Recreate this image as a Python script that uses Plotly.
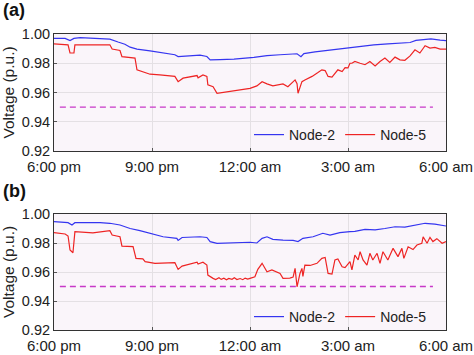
import plotly.graph_objects as go

# ---- data (hours after 6:00 pm, voltage p.u.) ----
a_node2_t = [0, 0.34, 0.49, 0.61, 0.8, 1.41, 1.71, 1.96, 2.17, 2.33, 2.54, 2.94, 3.34, 3.70, 3.80, 4.16, 4.47, 4.68, 4.78, 5.08, 5.51, 6.12, 6.52, 6.92, 7.44, 7.56, 7.65, 7.99, 8.36, 8.75, 8.97, 9.37, 9.79, 10.22, 10.62, 10.9, 11.08, 11.54, 11.82, 12.0]
a_node2_v = [0.997, 0.997, 0.9955, 0.997, 0.9975, 0.997, 0.9965, 0.9945, 0.993, 0.991, 0.9897, 0.9885, 0.987, 0.9858, 0.9846, 0.985, 0.9855, 0.9846, 0.9823, 0.9825, 0.9828, 0.984, 0.9852, 0.9858, 0.9865, 0.9845, 0.9866, 0.9878, 0.9888, 0.990, 0.9908, 0.9915, 0.9926, 0.9932, 0.9938, 0.9942, 0.9956, 0.9966, 0.9958, 0.9955]

a_node5_t = [0, 0.43, 0.49, 0.61, 0.64, 1.10, 1.71, 1.78, 2.02, 2.08, 2.48, 2.54, 2.72, 2.88, 2.94, 3.24, 3.70, 3.80, 3.95, 4.38, 4.41, 4.56, 4.68, 4.71, 4.87, 4.99, 5.30, 5.69, 6.00, 6.21, 6.37, 6.52, 6.70, 7.01, 7.16, 7.38, 7.44, 7.47, 7.53, 7.59, 7.68, 7.90, 8.08, 8.20, 8.30, 8.39, 8.51, 8.60, 8.69, 8.82, 8.91, 9.00, 9.06, 9.12, 9.21, 9.37, 9.52, 9.67, 9.83, 9.98, 10.13, 10.28, 10.44, 10.59, 10.74, 10.90, 11.05, 11.20, 11.36, 11.51, 11.66, 11.82, 12.0]
a_node5_v = [0.9933, 0.9926, 0.987, 0.987, 0.9926, 0.9928, 0.9926, 0.9897, 0.9887, 0.9845, 0.9835, 0.9755, 0.9743, 0.9728, 0.9725, 0.972, 0.971, 0.9674, 0.9698, 0.9716, 0.970, 0.972, 0.971, 0.9652, 0.964, 0.9595, 0.9606, 0.9617, 0.9628, 0.9645, 0.9674, 0.9659, 0.9645, 0.9659, 0.964, 0.9686, 0.966, 0.9595, 0.9628, 0.9674, 0.9686, 0.971, 0.9736, 0.9755, 0.975, 0.971, 0.9705, 0.9732, 0.9755, 0.9743, 0.977, 0.9768, 0.980, 0.980, 0.9812, 0.980, 0.979, 0.9812, 0.9782, 0.9812, 0.9835, 0.9805, 0.9842, 0.9823, 0.982, 0.985, 0.9892, 0.987, 0.992, 0.9904, 0.9908, 0.9897, 0.9897]

b_node2_t = [0, 0.43, 0.55, 0.64, 1.41, 1.71, 2.02, 2.33, 2.63, 2.94, 3.09, 3.34, 3.76, 3.80, 3.92, 4.47, 4.68, 4.78, 4.99, 5.54, 6.00, 6.21, 6.37, 6.52, 6.70, 7.01, 7.32, 7.47, 7.62, 7.93, 8.23, 8.45, 8.75, 9.06, 9.21, 9.52, 9.83, 10.13, 10.44, 10.74, 11.05, 11.36, 11.66, 12.0]
b_node2_v = [0.9947, 0.994, 0.9924, 0.994, 0.994, 0.9936, 0.9924, 0.990, 0.9885, 0.9867, 0.9855, 0.9843, 0.9832, 0.9818, 0.9838, 0.9843, 0.9838, 0.9809, 0.9798, 0.980, 0.9805, 0.980, 0.9832, 0.9843, 0.9825, 0.982, 0.9818, 0.981, 0.9832, 0.9843, 0.9867, 0.9855, 0.9871, 0.9878, 0.988, 0.9894, 0.989, 0.990, 0.9912, 0.991, 0.9924, 0.9936, 0.993, 0.9917]

b_node5_t = [0, 0.34, 0.43, 0.49, 0.58, 0.64, 1.19, 1.71, 1.78, 2.02, 2.08, 2.42, 2.51, 2.72, 2.79, 3.09, 3.70, 3.80, 3.92, 4.38, 4.41, 4.56, 4.68, 4.71, 4.87, 4.95, 5.05, 5.12, 5.20, 5.28, 5.35, 5.45, 5.52, 5.60, 5.70, 5.78, 5.85, 5.93, 6.00, 6.15, 6.24, 6.37, 6.52, 6.67, 6.92, 7.01, 7.22, 7.32, 7.38, 7.44, 7.53, 7.59, 7.62, 7.68, 7.84, 8.05, 8.20, 8.30, 8.39, 8.51, 8.60, 8.69, 8.82, 8.91, 9.06, 9.12, 9.21, 9.31, 9.37, 9.46, 9.58, 9.67, 9.76, 9.89, 9.98, 10.07, 10.22, 10.38, 10.53, 10.65, 10.71, 10.84, 10.99, 11.11, 11.26, 11.30, 11.42, 11.51, 11.60, 11.72, 11.88, 12.0]
b_node5_v = [0.9871, 0.9862, 0.9848, 0.9752, 0.9733, 0.9878, 0.987, 0.9885, 0.9855, 0.9843, 0.9779, 0.9775, 0.9694, 0.969, 0.9671, 0.966, 0.9664, 0.9618, 0.9641, 0.9667, 0.9655, 0.9667, 0.9648, 0.9579, 0.9556, 0.9548, 0.9560, 0.9549, 0.9557, 0.9546, 0.9556, 0.9550, 0.9561, 0.9548, 0.9555, 0.9547, 0.9558, 0.9551, 0.9556, 0.9567, 0.9618, 0.966, 0.9602, 0.9614, 0.959, 0.9556, 0.9558, 0.9565, 0.9625, 0.9498, 0.959, 0.9625, 0.957, 0.9648, 0.9645, 0.966, 0.9694, 0.970, 0.959, 0.9585, 0.9683, 0.969, 0.9636, 0.963, 0.9671, 0.9614, 0.9717, 0.9683, 0.974, 0.9683, 0.9648, 0.9729, 0.9683, 0.9729, 0.966, 0.974, 0.9683, 0.9763, 0.9706, 0.9763, 0.9694, 0.9774, 0.9755, 0.9786, 0.9798, 0.9843, 0.9798, 0.9839, 0.981, 0.983, 0.9798, 0.981]

limit_t = [0.18, 11.6]
limit_v = [0.95, 0.95]

x_tickvals = [0, 3, 6, 9, 12]
x_ticktext = ["6:00 pm", "9:00 pm", "12:00 am", "3:00 am", "6:00 am"]
y_tickvals = [0.92, 0.94, 0.96, 0.98, 1.00]
y_ticktext = ["0.92", "0.94", "0.96", "0.98", "1.00"]
panel_labels = ["(a)", "(b)"]

BLUE = "#3535f0"
RED = "#ee2424"
MAG = "#c838c8"
FONT = "Arial, Liberation Sans, sans-serif"

fig = go.Figure()

panels = [
    ("x", "y", "legend", a_node2_t, a_node2_v, a_node5_t, a_node5_v),
    ("x2", "y2", "legend2", b_node2_t, b_node2_v, b_node5_t, b_node5_v),
]
for xa, ya, lg, t2, v2, t5, v5 in panels:
    fig.add_trace(go.Scatter(x=limit_t, y=limit_v, mode="lines", xaxis=xa, yaxis=ya,
                             line=dict(color=MAG, width=1.3, dash="6px,4px"), showlegend=False))
    fig.add_trace(go.Scatter(x=t2, y=v2, mode="lines", name="Node-2", xaxis=xa, yaxis=ya,
                             legend=lg, line=dict(color=BLUE, width=1.2)))
    fig.add_trace(go.Scatter(x=t5, y=v5, mode="lines", name="Node-5", xaxis=xa, yaxis=ya,
                             legend=lg, line=dict(color=RED, width=1.2)))

W, H = 474, 355
xdom = [54 / W, 446 / W]
ydom_a = [1 - 151 / H, 1 - 34 / H]
ydom_b = [1 - 330 / H, 1 - 214 / H]

xcommon = dict(range=[0, 12], tickvals=x_tickvals, ticktext=x_ticktext, showgrid=True,
               gridcolor="#e4e0e4", gridwidth=1, showline=True, linecolor="#333333", linewidth=1,
               mirror=True, ticks="inside", ticklen=3, tickcolor="#555555",
               tickfont=dict(family=FONT, size=15, color="#222222"), zeroline=False,
               ticklabelstandoff=2)
ycommon = dict(range=[0.92, 1.00], tickvals=y_tickvals, ticktext=y_ticktext, showgrid=True,
               gridcolor="#e4e0e4", gridwidth=1, showline=True, linecolor="#333333", linewidth=1,
               mirror=True, ticks="inside", ticklen=3, tickcolor="#555555",
               tickfont=dict(family=FONT, size=14.5, color="#222222"), zeroline=False,
               title=dict(text="Voltage (p.u.)", font=dict(family=FONT, size=15.5, color="#222222"),
                          standoff=4))

fig.update_layout(
    width=W, height=H,
    margin=dict(l=0, r=0, t=0, b=0, autoexpand=False),
    paper_bgcolor="white", plot_bgcolor="#faf5fa",
    xaxis=dict(domain=xdom, anchor="y", **xcommon),
    yaxis=dict(domain=ydom_a, anchor="x", **ycommon),
    xaxis2=dict(domain=xdom, anchor="y2", **xcommon),
    yaxis2=dict(domain=ydom_b, anchor="x2", **ycommon),
    legend=dict(orientation="h", x=432 / W, xanchor="right", y=1 - 135 / H, yanchor="middle",
                bgcolor="rgba(0,0,0,0)", font=dict(family=FONT, size=14, color="#222222"),
                itemwidth=30, tracegroupgap=0),
    legend2=dict(orientation="h", x=432 / W, xanchor="right", y=1 - 317 / H, yanchor="middle",
                 bgcolor="rgba(0,0,0,0)", font=dict(family=FONT, size=14, color="#222222"),
                 itemwidth=30, tracegroupgap=0),
    annotations=[
        dict(text="<b>%s</b>" % panel_labels[0], x=1 / W, y=1 - 10 / H, xref="paper", yref="paper",
             xanchor="left", yanchor="middle", showarrow=False,
             font=dict(family=FONT, size=18, color="#111111")),
        dict(text="<b>%s</b>" % panel_labels[1], x=1 / W, y=1 - 191 / H, xref="paper", yref="paper",
             xanchor="left", yanchor="middle", showarrow=False,
             font=dict(family=FONT, size=18, color="#111111")),
    ],
)

fig.write_html("out.html", config={"displayModeBar": False},
               post_script="document.body.style.margin='0';document.body.style.overflow='hidden';")
